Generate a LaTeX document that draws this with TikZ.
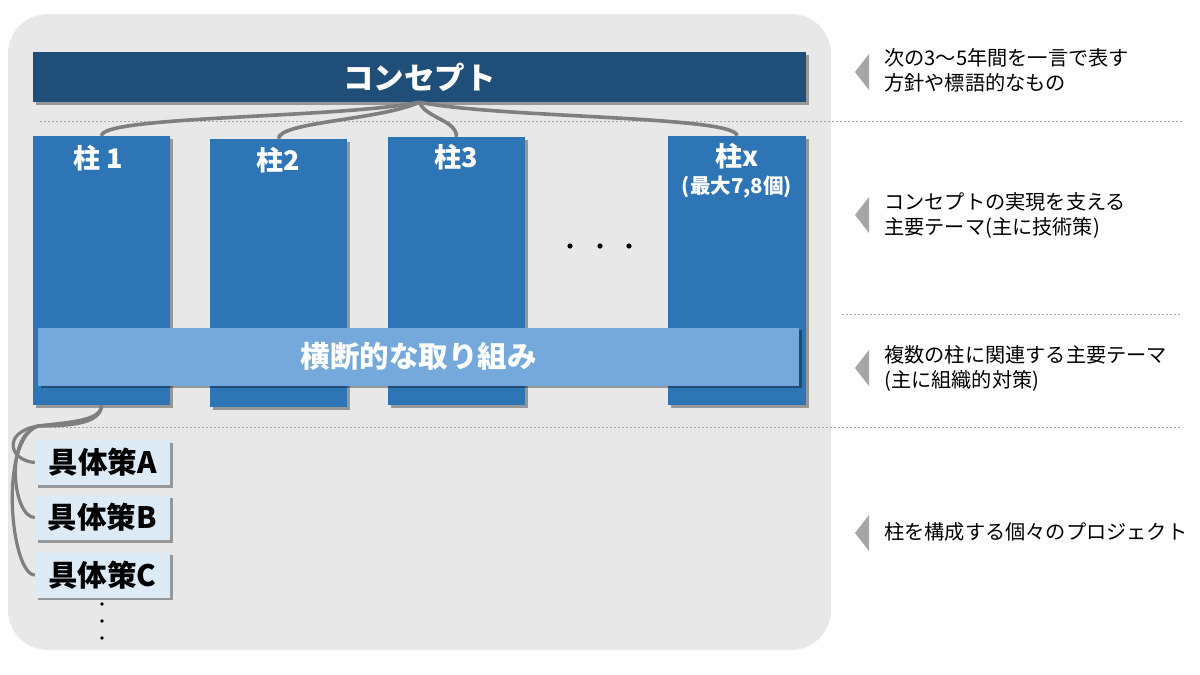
\documentclass[tikz,border=0pt]{standalone}
\usepackage{fontspec}
\setmainfont{Noto Sans CJK JP}
\usetikzlibrary{shadows}
\definecolor{bgc}{HTML}{E8E8E8}
\definecolor{concc}{HTML}{1F4E79}
\definecolor{pilc}{HTML}{2E75B6}
\definecolor{crossc}{HTML}{75A9DB}
\definecolor{boxc}{HTML}{DDEBF7}
\definecolor{linec}{HTML}{7F7F7F}
\definecolor{tric}{HTML}{A6A6A6}
\definecolor{dotc}{HTML}{A8A8A8}
\tikzset{
  shd/.style={drop shadow={shadow xshift=2.5pt, shadow yshift=-2.5pt, fill=black, opacity=0.35}},
  concept/.style={shd, fill=concc, minimum width=773pt, minimum height=50pt, inner sep=0pt, text=white, font=\bfseries\fontsize{30.5}{34}\selectfont},
  pillar/.style={shd, fill=pilc, minimum width=137pt, minimum height=268pt, inner sep=0pt},
  plabel/.style={text=white, font=\bfseries\fontsize{27}{30}\selectfont, inner sep=0pt},
  psub/.style={text=white, font=\bfseries\fontsize{20.5}{22}\selectfont, inner sep=0pt},
  cross/.style={shd, fill=crossc, minimum width=761pt, minimum height=58pt, inner sep=0pt, text=white, font=\bfseries\fontsize{29.5}{32}\selectfont},
  measure/.style={shd, fill=boxc, minimum width=135pt, minimum height=45pt, inner sep=0pt, text=black, font=\bfseries\fontsize{29.5}{32}\selectfont},
  conn/.style={draw=linec, line width=3.6pt},
  sep/.style={draw=dotc, dash pattern=on 2pt off 2pt, line width=0.8pt},
  note/.style={anchor=west, align=left, inner sep=0pt, text=black, font=\fontsize{20.2}{25}\selectfont},
  tri/.style={fill=tric, draw=none},
  dot/.style={fill=black, draw=none}
}
\begin{document}
\begin{tikzpicture}[x=1pt, y=-1pt]
\useasboundingbox (0,0) rectangle (1200,675);
\fill[white] (0,0) rectangle (1200,675);
% background panel
\fill[bgc, rounded corners=40pt] (8,14) rectangle (831,650);
% separators
\draw[sep] (40,121) -- (1182,121);
\draw[sep] (842,314) -- (1182,314);
\draw[sep] (50,427) -- (1182,427);
% concept
\node[concept] (c) at (419.5,77) {コンセプト};
% pillars
\node[pillar, minimum height=269pt] (p1) at (101.5,270.5) {};
\node[pillar] (p2) at (278.5,273) {};
\node[pillar] (p3) at (456.5,271) {};
\node[pillar, minimum width=138pt, minimum height=269pt] (px) at (737,270.5) {};
\node[plabel] (l1) at (98,158) {柱 1};
\node[plabel] (l2) at (278.5,160) {柱2};
\node[plabel] (l3) at (456.5,157) {柱3};
\node[plabel] (lx) at (737,156) {柱x};
\node[psub] (sx) at (737,187) {(最大7,8個)};
% dots between pillars
\fill[dot] (570,246) circle (2.6pt);
\fill[dot] (600,246) circle (2.6pt);
\fill[dot] (629,246) circle (2.6pt);
% cross-cutting bar
\node[cross] (x) at (418.5,356.5) {横断的な取り組み};
% connectors from concept to pillars
\draw[conn] (c.south) .. controls +(-80,16) and +(0,-20) .. (p1.north);
\draw[conn] (c.south) .. controls +(-40,18) and +(0,-17) .. (p2.north);
\draw[conn] (c.south) .. controls +(6,16) and +(0,-17) .. (p3.north);
\draw[conn] (c.south) .. controls +(80,16) and +(0,-20) .. (px.north);
% concrete measures
\node[measure] (bA) at (102.5,462.5) {具体策A};
\node[measure] (bB) at (102.5,517.5) {具体策B};
\node[measure] (bC) at (102.5,575) {具体策C};
% connectors from pillar 1 to measures
\coordinate (bend) at (38,426);
\draw[conn, line width=3.2pt] (p1.south) .. controls +(0,16) and +(30,-4) .. (bend) .. controls +(-36,6) and +(-26,-2) .. (bA.west);
\draw[conn, line width=3.2pt] (p1.south) .. controls +(0,18) and +(28,-2) .. (bend) .. controls +(-34,10) and +(-22,0) .. (bB.west);
\draw[conn, line width=3.2pt] (p1.south) .. controls +(0,20) and +(26,0) .. (bend) .. controls +(-40,14) and +(-24,0) .. (bC.west);
% vertical dots
\fill[dot] (102,604) circle (1.8pt);
\fill[dot] (102,621) circle (1.8pt);
\fill[dot] (102,638) circle (1.8pt);
% right side notes
\fill[tri] (869,54) -- (869,90) -- (855,72) -- cycle;
\node[note] (n1) at (884,70) {次の3〜5年間を一言で表す\\方針や標語的なもの};
\fill[tri] (869,197) -- (869,233) -- (855,215) -- cycle;
\node[note] (n2) at (884,215) {コンセプトの実現を支える\\主要テーマ(主に技術策)};
\fill[tri] (869,350) -- (869,386) -- (855,368) -- cycle;
\node[note] (n3) at (884,368) {複数の柱に関連する主要テーマ\\(主に組織的対策)};
\fill[tri] (869,515) -- (869,551) -- (855,533) -- cycle;
\node[note] (n4) at (884,532) {柱を構成する個々のプロジェクト};
\end{tikzpicture}
\end{document}
